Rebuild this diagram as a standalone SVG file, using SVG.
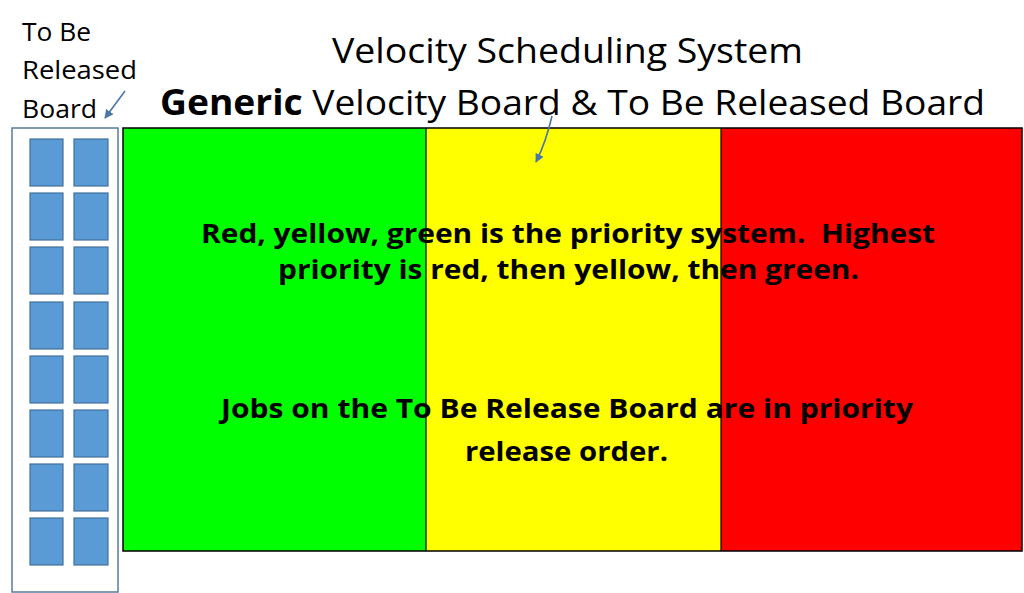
<svg xmlns="http://www.w3.org/2000/svg" width="1024" height="593" viewBox="0 0 1024 593">
<defs>
<style>
.t{font-family:"Open Sans","Noto Sans","Liberation Sans",sans-serif;fill:#000}
.title{font-size:35px}
.lbl{font-size:25px}
.body{font-size:27px;font-weight:bold}
.card{fill:#5b9bd5;stroke:#41719c;stroke-width:1.2}
.conn{fill:none;stroke:#4a76a8;stroke-width:1.6}
</style>
<marker id="ah" viewBox="0 0 10 10" refX="9" refY="5" markerWidth="9" markerHeight="9" orient="auto" markerUnits="userSpaceOnUse">
<path d="M0,0 L10,5 L0,10 z" fill="#4a76a8"/>
</marker>
</defs>
<rect width="1024" height="593" fill="#fff"/>

<g id="title">
<text class="t title" x="332" y="63" textLength="471" lengthAdjust="spacingAndGlyphs">Velocity Scheduling System</text>
<text class="t title" x="160" y="115" textLength="825" lengthAdjust="spacingAndGlyphs"><tspan font-weight="bold">Generic</tspan> Velocity Board &amp; To Be Released Board</text>
</g>

<g id="velocity-board">
<rect x="123" y="128" width="303" height="423" fill="#00ff00"/>
<rect x="426" y="128" width="295" height="423" fill="#ffff00"/>
<rect x="721" y="128" width="301" height="423" fill="#ff0000"/>
<line x1="426" y1="128" x2="426" y2="551" stroke="#000" stroke-width="1.2"/>
<line x1="721" y1="128" x2="721" y2="551" stroke="#000" stroke-width="1.2"/>
<rect x="123" y="128" width="899" height="423" fill="none" stroke="#000" stroke-width="1.5"/>
<text class="t body" x="201" y="243" textLength="734" lengthAdjust="spacingAndGlyphs" xml:space="preserve">Red, yellow, green is the priority system.&#160; Highest</text>
<text class="t body" x="278" y="279" textLength="581" lengthAdjust="spacingAndGlyphs">priority is red, then yellow, then green.</text>
<text class="t body" x="221" y="418" textLength="692" lengthAdjust="spacingAndGlyphs">Jobs on the To Be Release Board are in priority</text>
<text class="t body" x="465" y="461" textLength="203" lengthAdjust="spacingAndGlyphs">release order.</text>
</g>

<g id="to-be-released-board">
<rect x="12" y="128" width="106" height="464" fill="#fff" stroke="#587ba0" stroke-width="1.5"/>
<rect class="card" x="30" y="139" width="33" height="47"/><rect class="card" x="74" y="139" width="34" height="47"/>
<rect class="card" x="30" y="193" width="33" height="47"/><rect class="card" x="74" y="193" width="34" height="47"/>
<rect class="card" x="30" y="247" width="33" height="47"/><rect class="card" x="74" y="247" width="34" height="47"/>
<rect class="card" x="30" y="302" width="33" height="47"/><rect class="card" x="74" y="302" width="34" height="47"/>
<rect class="card" x="30" y="356" width="33" height="47"/><rect class="card" x="74" y="356" width="34" height="47"/>
<rect class="card" x="30" y="410" width="33" height="47"/><rect class="card" x="74" y="410" width="34" height="47"/>
<rect class="card" x="30" y="464" width="33" height="47"/><rect class="card" x="74" y="464" width="34" height="47"/>
<rect class="card" x="30" y="518" width="33" height="47"/><rect class="card" x="74" y="518" width="34" height="47"/>
</g>

<g id="label">
<text class="t lbl" x="22" y="41" textLength="69" lengthAdjust="spacingAndGlyphs">To Be</text>
<text class="t lbl" x="22" y="79" textLength="115" lengthAdjust="spacingAndGlyphs">Released</text>
<text class="t lbl" x="22" y="118" textLength="75" lengthAdjust="spacingAndGlyphs">Board</text>
</g>

<g id="connectors">
<path class="conn" d="M125,91 L105,118" marker-end="url(#ah)"/>
<path class="conn" d="M552,116 Q546,142 536,162" marker-end="url(#ah)"/>
</g>
</svg>
